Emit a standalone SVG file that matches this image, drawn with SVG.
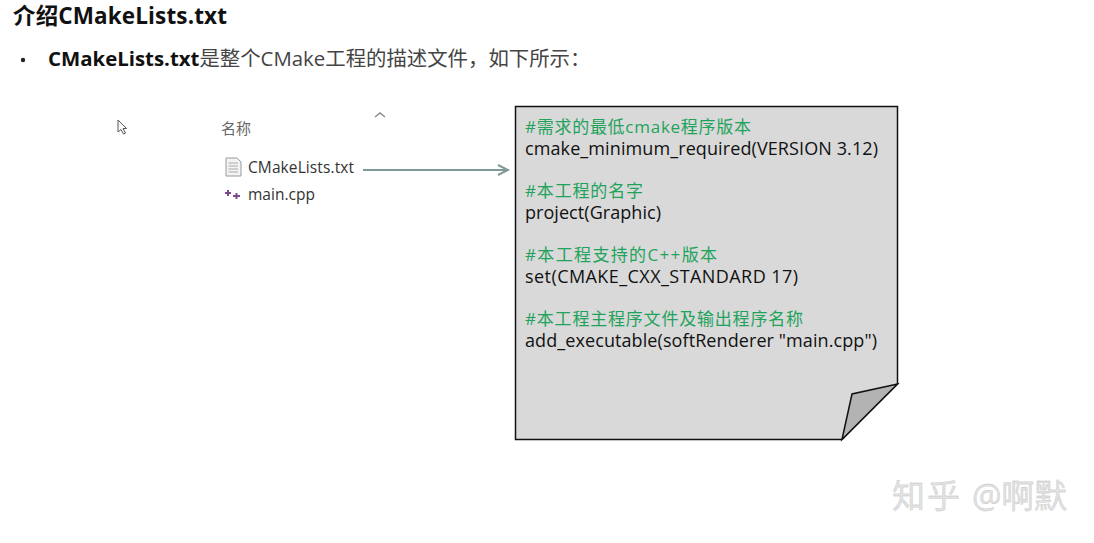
<svg xmlns="http://www.w3.org/2000/svg" width="1094" height="543" viewBox="0 0 1094 543">
<style>
text{font-family:"Open Sans","Noto Sans CJK SC",sans-serif}
.code{font-size:18px;fill:#111}
.cm{fill:#1fa35c;font-size:17px}
.file{font-size:15.500px;fill:#333}
</style>
<defs><marker id="arr" markerWidth="14" markerHeight="14" refX="12" refY="6" orient="auto" markerUnits="userSpaceOnUse"><path d="M2 1L12 6L2 11" fill="none" stroke="#7f9a9a" stroke-width="2"/></marker></defs>
<rect width="1094" height="543" fill="#fff"/>
<text x="13" y="24" font-size="22.500" font-weight="700" fill="#111" textLength="214">介绍CMakeLists.txt</text>
<circle cx="23" cy="60" r="2.200" fill="#222"/>
<text x="48" y="66" font-size="20.400" fill="#444"><tspan font-weight="700" fill="#111">CMakeLists.txt</tspan>是整个CMake工程的描述文件，如下所示：</text>
<path id="cursor" d="M118 120V132L121 129.500L123.500 134L125.500 133L123 128.500H126.500Z" fill="#fff" stroke="#555"/>
<g id="file-list">
<text x="221" y="134" font-size="15" fill="#666">名称</text>
<path d="M375 117L380 113L385 117" fill="none" stroke="#888" stroke-width="1.400"/>
<path d="M226 158H237L241 162V176H226Z" fill="#f3f3f3" stroke="#999"/>
<path d="M228.500 163H238M228.500 166H238M228.500 169H238M228.500 172H238" stroke="#aaa"/>
<text class="file" x="248" y="173" textLength="106">CMakeLists.txt</text>
<path d="M225 193H231M228 190V196M233 196H240M236.500 193V199" stroke="#7a4a8c" stroke-width="2"/>
<text class="file" x="248" y="200" textLength="67">main.cpp</text>
</g>
<g id="connectors"><path d="M363 170H508" fill="none" stroke="#7f9a9a" stroke-width="2.200" marker-end="url(#arr)"/></g>
<g id="note">
<path d="M515.500 106.500H897.500V384L842 439.500H515.500Z" fill="#d9d9d9" stroke="#111" stroke-width="1.500"/>
<path d="M842 439.500L852 394L897.500 384Z" fill="#b3b3b3" stroke="#111" stroke-width="1.500"/>
<text class="code cm" x="525" y="133" textLength="226">#需求的最低cmake程序版本</text>
<text class="code" x="525" y="155" textLength="353">cmake_minimum_required(VERSION 3.12)</text>
<text class="code cm" x="525" y="197" textLength="118">#本工程的名字</text>
<text class="code" x="525" y="219" textLength="136">project(Graphic)</text>
<text class="code cm" x="525" y="261" textLength="192">#本工程支持的C++版本</text>
<text class="code" x="525" y="283" textLength="273">set(CMAKE_CXX_STANDARD 17)</text>
<text class="code cm" x="525" y="325" textLength="278">#本工程主程序文件及输出程序名称</text>
<text class="code" x="525" y="347" textLength="352">add_executable(softRenderer "main.cpp")</text>
</g>
<g id="watermark" fill="#e2e2e2" stroke="#bbb" stroke-width=".3" font-size="33"><text x="892" y="508" textLength="68">知乎</text><text x="972" y="508" textLength="95">@啊默</text></g>
</svg>
